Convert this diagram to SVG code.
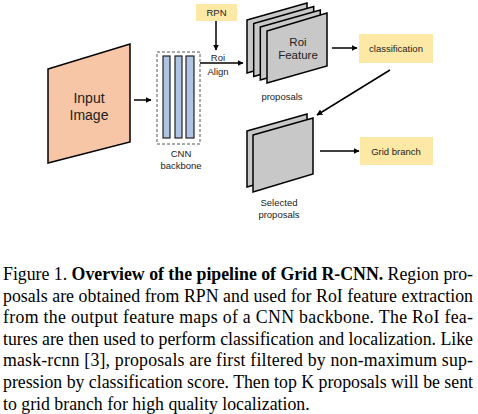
<svg xmlns="http://www.w3.org/2000/svg" width="478" height="414" viewBox="0 0 478 414">
<style>
.lbl{font-family:"Liberation Sans","Noto Sans",Arial,sans-serif;fill:#222;text-anchor:middle}
.cap{font-family:"Liberation Serif","Times New Roman",serif;font-size:17.8px;fill:#000}
.sheet{fill:#c8c8c8;stroke:#000;stroke-width:1.5}
.bar{fill:#aec4e2;stroke:#222;stroke-width:1.2}
.ybox{fill:#fde9a5;stroke:none}
.con{stroke:#000;stroke-width:1.5;fill:none;marker-end:url(#ah)}
</style>
<defs>
<marker id="ah" viewBox="0 0 10 10" refX="9" refY="5" markerWidth="6" markerHeight="6" markerUnits="userSpaceOnUse" orient="auto">
<path d="M0,0 L10,5 L0,10 z" fill="#000"/>
</marker>
</defs>
<rect width="478" height="414" fill="#fff"/>
<g id="input-image">
<polygon points="48,69 130,44 130,142 48,163" fill="#f7c6a7" stroke="#000" stroke-width="1.5"/>
<text class="lbl" x="89" y="103" font-size="14">Input</text>
<text class="lbl" x="89" y="120" font-size="14">Image</text>
</g>
<g id="cnn-backbone">
<rect x="157" y="52" width="43" height="92" fill="none" stroke="#555" stroke-width="1" stroke-dasharray="3,2"/>
<rect class="bar" x="163" y="56" width="7" height="82"/>
<rect class="bar" x="175" y="56" width="7" height="82"/>
<rect class="bar" x="186" y="56" width="8" height="82"/>
<text class="lbl" x="181" y="157" font-size="9.5">CNN</text>
<text class="lbl" x="181" y="169" font-size="9.5">backbone</text>
</g>
<g id="rpn">
<rect class="ybox" x="196" y="4" width="41" height="17"/>
<text class="lbl" x="216.5" y="16" font-size="9.5">RPN</text>
</g>
<g id="roi-align-label">
<text class="lbl" x="218" y="61" font-size="9.5">Roi</text>
<text class="lbl" x="218" y="75" font-size="9.5">Align</text>
</g>
<g id="roi-feature">
<polygon class="sheet" points="247,20 307,3 307,56 247,73"/>
<polygon class="sheet" points="253.7,23.5 313.7,6.5 313.7,59.5 253.7,76.5"/>
<polygon class="sheet" points="260.3,27 320.3,10 320.3,63 260.3,80"/>
<polygon class="sheet" points="267,31 327,13 327,66 267,83"/>
<text class="lbl" x="298" y="46" font-size="11.5">Roi</text>
<text class="lbl" x="298" y="59" font-size="11.5">Feature</text>
<text class="lbl" x="282" y="100" font-size="9.5">proposals</text>
</g>
<g id="classification">
<rect class="ybox" x="359" y="34" width="74" height="29"/>
<text class="lbl" x="396" y="52" font-size="9.5">classification</text>
</g>
<g id="selected-proposals">
<polygon class="sheet" points="247,131 307,114 307,170 247,187"/>
<polygon class="sheet" points="253,135 313,118 313,174 253,192"/>
<text class="lbl" x="279" y="206" font-size="9.5">Selected</text>
<text class="lbl" x="279" y="218" font-size="9.5">proposals</text>
</g>
<g id="grid-branch">
<rect class="ybox" x="360" y="137" width="73" height="28"/>
<text class="lbl" x="396" y="154.5" font-size="9.5">Grid branch</text>
</g>
<g id="connectors">
<line class="con" x1="134" y1="100" x2="151" y2="100"/>
<line class="con" x1="216" y1="21" x2="216" y2="50"/>
<line class="con" x1="200" y1="63" x2="243" y2="63"/>
<line class="con" x1="332" y1="48" x2="357" y2="48"/>
<line class="con" x1="390" y1="70" x2="317" y2="115"/>
<line class="con" x1="320" y1="151" x2="359" y2="151"/>
</g>
<g id="caption">
<text class="cap" x="3" y="280" textLength="470" lengthAdjust="spacing">Figure 1. <tspan font-weight="bold">Overview of the pipeline of Grid R-CNN.</tspan> Region pro-</text>
<text class="cap" x="3" y="301.6" textLength="470" lengthAdjust="spacing">posals are obtained from RPN and used for RoI feature extraction</text>
<text class="cap" x="3" y="323.2" textLength="470" lengthAdjust="spacing">from the output feature maps of a CNN backbone.  The RoI fea-</text>
<text class="cap" x="3" y="344.8" textLength="470" lengthAdjust="spacing">tures are then used to perform classification and localization. Like</text>
<text class="cap" x="3" y="366.4" textLength="470" lengthAdjust="spacing">mask-rcnn [3], proposals are first filtered by non-maximum sup-</text>
<text class="cap" x="3" y="388" textLength="470" lengthAdjust="spacing">pression by classification score. Then top K proposals will be sent</text>
<text class="cap" x="3" y="409.6">to grid branch for high quality localization.</text>
</g>
</svg>
